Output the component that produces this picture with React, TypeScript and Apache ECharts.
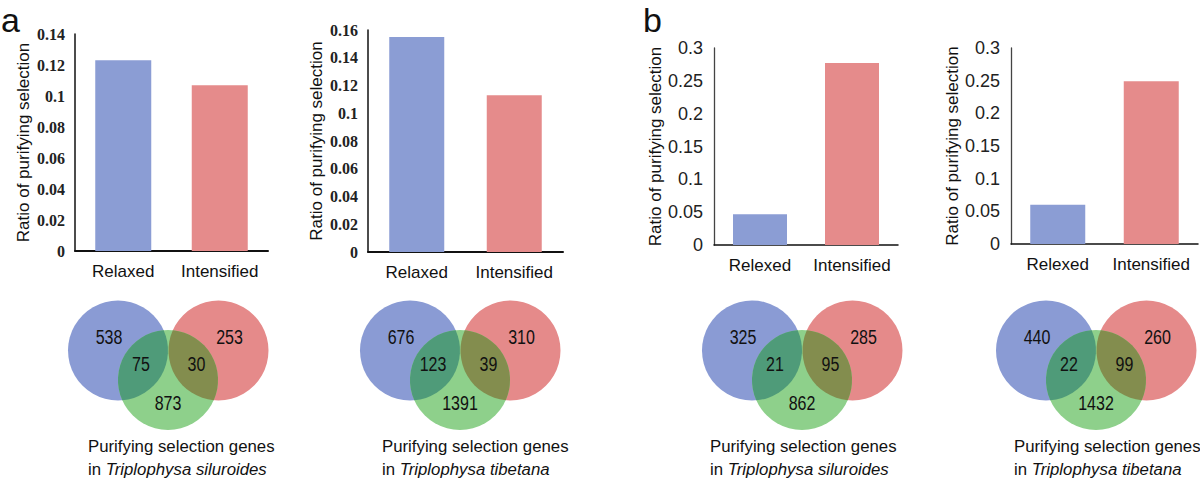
import React, { useEffect, useRef } from "react";
import * as echarts from "echarts";

// ---------- data ----------
const categoriesA = ["Relaxed", "Intensified"];
const categoriesB = ["Relexed", "Intensified"];
const ratioSiluroidesA = [0.123, 0.107];
const ratioTibetanaA = [0.155, 0.113];
const ratioSiluroidesB = [0.047, 0.277];
const ratioTibetanaB = [0.06, 0.249];
const yMaxes = [0.14, 0.16, 0.3, 0.3];
const yIntervals = [0.02, 0.02, 0.05, 0.05];

// venn counts: [blue only, red only, blue∩green, red∩green, green only]
const vennSiluroidesA = [538, 253, 75, 30, 873];
const vennTibetanaA = [676, 310, 123, 39, 1391];
const vennSiluroidesB = [325, 285, 21, 95, 862];
const vennTibetanaB = [440, 260, 22, 99, 1432];
const speciesNames = [
  "Triplophysa siluroides",
  "Triplophysa tibetana",
  "Triplophysa siluroides",
  "Triplophysa tibetana",
];
const captionLine1 = "Purifying selection genes";
const yAxisTitle = "Ratio of purifying selection";
const panelLetters = ["a", "b"];

// ---------- styles / layout ----------
const barColors = ["#8b9dd4", "#e58b8b"];
const vennBlue = "#8a9bd4";
const vennRed = "#e58a8a";
const vennGreen = "#8ed08b";
const lensBlueGreen = "#4f9b79";
const lensRedGreen = "#838d4e";
const SANS = "Liberation Sans, Arial, sans-serif";
const SERIF = "Liberation Serif, Times New Roman, serif";

const grids = [
  { left: 75, top: 34, width: 193, height: 217, barWidth: 56, nameGap: 43, serif: true, lw: 2 },
  { left: 368, top: 30, width: 195, height: 222, barWidth: 55, nameGap: 43, serif: true, lw: 2 },
  { left: 714, top: 48, width: 184, height: 197, barWidth: 54, nameGap: 45, serif: false, lw: 1.5 },
  { left: 1011, top: 48, width: 187, height: 196, barWidth: 55, nameGap: 48, serif: false, lw: 1.5 },
];

const vennLayouts = [
  { bx: 118, captionX: 88 },
  { bx: 410, captionX: 382 },
  { bx: 752, captionX: 710 },
  { bx: 1046, captionX: 1014 },
];
const R = 50;
const TOP_CY = 350.5;
const GREEN_CY = 380;

function lensPath(x1: number, y1: number, x2: number, y2: number, r: number) {
  const dx = x2 - x1;
  const dy = y2 - y1;
  const d = Math.hypot(dx, dy);
  const a = d / 2;
  const h = Math.sqrt(r * r - a * a);
  const mx = x1 + dx / 2;
  const my = y1 + dy / 2;
  const ux = -dy / d;
  const uy = dx / d;
  const p1 = `${(mx + ux * h).toFixed(2)},${(my + uy * h).toFixed(2)}`;
  const p2 = `${(mx - ux * h).toFixed(2)},${(my - uy * h).toFixed(2)}`;
  return `M${p1} A${r} ${r} 0 0 1 ${p2} A${r} ${r} 0 0 1 ${p1} Z`;
}

function txt(text: string, x: number, y: number, fontSize: number, extra: any = {}, styleExtra: any = {}) {
  return {
    type: "text",
    x,
    y,
    silent: true,
    ...extra,
    style: {
      text,
      fontSize,
      fontFamily: SANS,
      fill: "#111",
      align: "center",
      verticalAlign: "middle",
      textAlign: "center",
      textVerticalAlign: "middle",
      ...styleExtra,
    },
  };
}

export default function App() {
  const ref = useRef<HTMLDivElement>(null);

  useEffect(() => {
    if (!ref.current) return;
    const chart = echarts.init(ref.current, undefined, { renderer: "svg" });

    const cats = [categoriesA, categoriesA, categoriesB, categoriesB];
    const values = [ratioSiluroidesA, ratioTibetanaA, ratioSiluroidesB, ratioTibetanaB];
    const vennCounts = [vennSiluroidesA, vennTibetanaA, vennSiluroidesB, vennTibetanaB];

    const graphics: any[] = [];
    vennLayouts.forEach((v, i) => {
      const bx = v.bx;
      const rx = bx + 100.5;
      const gx = bx + 50;
      graphics.push({ type: "circle", silent: true, shape: { cx: bx, cy: TOP_CY, r: R }, style: { fill: vennBlue } });
      graphics.push({ type: "circle", silent: true, shape: { cx: rx, cy: TOP_CY, r: R }, style: { fill: vennRed } });
      graphics.push({ type: "circle", silent: true, shape: { cx: gx, cy: GREEN_CY, r: R }, style: { fill: vennGreen } });
      const n1 = `lensBG${i}`;
      const n2 = `lensRG${i}`;
      echarts.graphic.registerShape(n1, echarts.graphic.extendPath(lensPath(bx, TOP_CY, gx, GREEN_CY, R), {}));
      echarts.graphic.registerShape(n2, echarts.graphic.extendPath(lensPath(gx, GREEN_CY, rx, TOP_CY, R), {}));
      graphics.push({ type: n1, x: 0, y: 0, silent: true, style: { fill: lensBlueGreen, stroke: null } });
      graphics.push({ type: n2, x: 0, y: 0, silent: true, style: { fill: lensRedGreen, stroke: null } });

      const c = vennCounts[i];
      const numScale = { scaleX: 0.8 };
      graphics.push(txt(String(c[0]), bx - 9, 337, 20, numScale));
      graphics.push(txt(String(c[1]), rx + 11, 337, 20, numScale));
      graphics.push(txt(String(c[2]), bx + 23, 364, 20, numScale));
      graphics.push(txt(String(c[3]), rx - 22, 364, 20, numScale));
      graphics.push(txt(String(c[4]), gx, 403, 20, numScale));

      graphics.push(
        txt(captionLine1, v.captionX, 446, 16.8, {}, { align: "left", textAlign: "left" })
      );
      graphics.push({
        type: "text",
        x: v.captionX,
        y: 469,
        silent: true,
        style: {
          text: `{n|in }{i|${speciesNames[i]}}`,
          fontSize: 16.8,
          fontFamily: SANS,
          fill: "#111",
          align: "left",
          verticalAlign: "middle",
          textAlign: "left",
          textVerticalAlign: "middle",
          rich: {
            n: { fontSize: 16.8, fontFamily: SANS, fill: "#111" },
            i: { fontSize: 16.8, fontFamily: SANS, fill: "#111", fontStyle: "italic" },
          },
        },
      });
    });

    graphics.push(txt(panelLetters[0], 1, 20, 34, {}, { align: "left", textAlign: "left" }));
    graphics.push(txt(panelLetters[1], 643, 20, 34, {}, { align: "left", textAlign: "left" }));

    const option: any = {
      animation: false,
      backgroundColor: "#ffffff",
      grid: grids.map((g) => ({
        left: g.left,
        top: g.top,
        width: g.width,
        height: g.height,
        containLabel: false,
      })),
      xAxis: grids.map((g, i) => ({
        type: "category",
        gridIndex: i,
        data: cats[i],
        axisTick: { show: false },
        axisLine: { show: true, lineStyle: { color: "#111", width: g.lw } },
        axisLabel: { interval: 0, fontSize: 17, fontFamily: SANS, color: "#111", margin: 12 },
      })),
      yAxis: grids.map((g, i) => ({
        type: "value",
        gridIndex: i,
        min: 0,
        max: yMaxes[i],
        interval: yIntervals[i],
        splitLine: { show: false },
        axisTick: { show: false },
        axisLine: { show: true, lineStyle: { color: g.serif ? "#111" : "#444", width: g.serif ? 1.5 : 1.3 } },
        axisLabel: g.serif
          ? { fontSize: 16, fontFamily: SERIF, fontWeight: "bold", color: "#222", margin: 10 }
          : { fontSize: 18, fontFamily: SANS, color: "#222", margin: 11 },
        name: yAxisTitle,
        nameLocation: "middle",
        nameRotate: 90,
        nameGap: g.nameGap,
        nameTextStyle: { fontSize: 17, fontFamily: SANS, color: "#111" },
      })),
      series: grids.map((g, i) => ({
        type: "bar",
        xAxisIndex: i,
        yAxisIndex: i,
        barWidth: g.barWidth,
        data: values[i].map((v, j) => ({ value: v, itemStyle: { color: barColors[j] } })),
      })),
      graphic: { elements: graphics },
    };

    chart.setOption(option);
    return () => chart.dispose();
  }, []);

  return (
    <div
      ref={ref}
      style={{ position: "fixed", left: 0, top: 0, width: 1200, height: 480, background: "#fff" }}
    />
  );
}
